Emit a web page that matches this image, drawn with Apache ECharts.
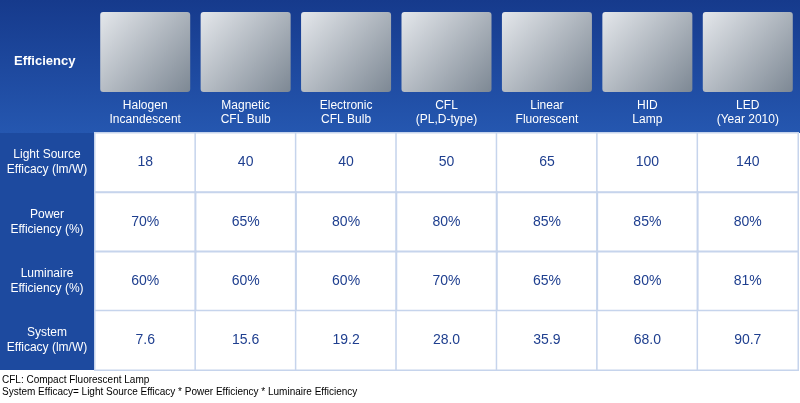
<!DOCTYPE html>
<html><head><meta charset="utf-8">
<script src="https://cdn.jsdelivr.net/npm/echarts@6/dist/echarts.min.js"></script>
<style>html,body{margin:0;padding:0;background:#fff}#c{width:800px;height:403px}</style>
</head><body><div id="c"></div>
<script>
const categories = ["Halogen\nIncandescent","Magnetic\nCFL Bulb","Electronic\nCFL Bulb","CFL\n(PL,D-type)","Linear\nFluorescent","HID\nLamp","LED\n(Year 2010)"];
const rowLabels = ["Light Source\nEfficacy (lm/W)","Power\nEfficiency (%)","Luminaire\nEfficiency (%)","System\nEfficacy (lm/W)"];
const lightSourceEfficacy = ["18","40","40","50","65","100","140"];
const powerEfficiency = ["70%","65%","80%","80%","85%","85%","80%"];
const luminaireEfficiency = ["60%","60%","60%","70%","65%","80%","81%"];
const systemEfficacy = ["7.6","15.6","19.2","28.0","35.9","68.0","90.7"];
const rows = [lightSourceEfficacy, powerEfficiency, luminaireEfficiency, systemEfficacy];
const footnotes = ["CFL: Compact Fluorescent Lamp","System Efficacy= Light Source Efficacy * Power Efficiency * Luminaire Efficiency"];

const data = [];
rows.forEach((r, yi) => r.forEach((v, xi) => data.push([xi, yi, 1, v])));

const chart = echarts.init(document.getElementById('c'));
const F = 'Liberation Sans, Arial, sans-serif';
chart.setOption({
  animation: false,
  grid: {left: 95, right: 2, top: 133, bottom: 33},
  xAxis: {type:'category', data: categories, position:'top',
    axisLine:{show:false}, axisTick:{show:false}, splitLine:{show:false},
    axisLabel:{color:'#fff', fontFamily:F, fontSize:12, lineHeight:14, margin:6}},
  yAxis: {type:'category', data: rowLabels, inverse:true,
    axisLine:{show:false}, axisTick:{show:false},
    axisLabel:{color:'#fff', fontFamily:F, fontSize:12, lineHeight:15, align:'center', margin:48}},
  series: [{
    type:'heatmap', data: data,
    encode:{x:0, y:1, value:2},
    itemStyle:{color:'#fff', borderColor:'#c6d4ec', borderWidth:1.5},
    label:{show:true, formatter:p => p.data[3], color:'#1f3f8f', fontFamily:F, fontSize:14}
  }],
  visualMap: {show:false, min:0, max:1, inRange:{color:['#fff','#fff']}}
});
const photos = categories.map((c, i) => {
  const px = chart.convertToPixel({gridIndex:0}, [i, 0])[0];
  return {type:'rect', z:-5, shape:{x:px-45, y:12, width:90, height:80, r:3},
    style:{fill:new echarts.graphic.LinearGradient(0,0,1,1,[{offset:0,color:'#e4e7eb'},{offset:1,color:'#7d8894'}])}};
});
chart.setOption({graphic: [
  {type:'rect', z:-10, shape:{x:0,y:0,width:800,height:133}, style:{fill:new echarts.graphic.LinearGradient(0,0,0,1,[{offset:0,color:'#163a8c'},{offset:1,color:'#2557b0'}])}},
  {type:'rect', z:-10, shape:{x:0,y:133,width:95,height:237}, style:{fill:'#1d4a9f'}},
  {type:'text', left:14, top:55, style:{text:'Efficiency', fill:'#fff', font:'bold 13px '+F}},
  {type:'text', left:2, top:374, style:{text:footnotes.join('\n'), fill:'#000', font:'10px '+F, lineHeight:12}}
].concat(photos)});
</script></body></html>
